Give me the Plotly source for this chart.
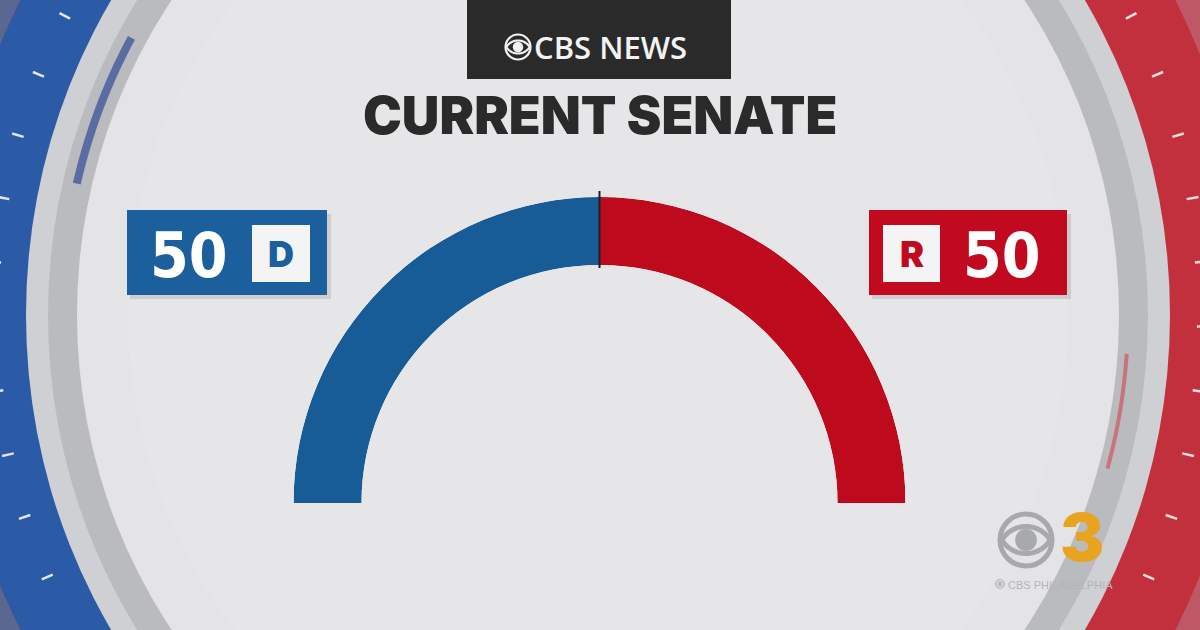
import numpy as np
import plotly.graph_objects as go

W, H = 1200, 630

# ---------------- data ----------------
parties = ["Democrats", "Republicans"]
party_letters = ["D", "R"]
seats = [50, 50]
party_colors = ["#175c96", "#bd0a1c"]
box_colors = ["#1c5f9d", "#c10a1f"]

title_text = "CURRENT SENATE"
network_text = "CBS NEWS"
station_text = "CBS PHILADELPHIA"
channel_text = "3"


def px(x):
    return x / W


def py(y):
    return 1 - y / H


shapes = []
annotations = []


def rect(x0, y0, x1, y1, color, layer="below"):
    shapes.append(dict(type="rect", xref="paper", yref="paper",
                       x0=px(x0), x1=px(x1), y0=py(y1), y1=py(y0),
                       fillcolor=color, line=dict(width=0), layer=layer))


def ellipse(cx, cy, a, b, fill=None, line_color=None, line_width=0, layer="below"):
    shapes.append(dict(type="circle", xref="paper", yref="paper",
                       x0=px(cx - a), x1=px(cx + a), y0=py(cy + b), y1=py(cy - b),
                       fillcolor=fill if fill else "rgba(0,0,0,0)",
                       line=dict(width=line_width, color=line_color or "rgba(0,0,0,0)"),
                       layer=layer))


def poly_path(xs, ys, close=True):
    pts = [f"{px(x):.5f},{py(y):.5f}" for x, y in zip(xs, ys)]
    return "M " + " L ".join(pts) + (" Z" if close else "")


def ell_pts(cx, cy, a, b, t0, t1, n=160):
    t = np.radians(np.linspace(t0, t1, n))
    return cx + a * np.cos(t), cy - b * np.sin(t)


# ---------------- background frame (perspective ring) ----------------
FCX, FCY = 598, 315
rect(0, 0, 600, 630, "#5a6791")
rect(600, 0, 1200, 630, "#bf5866")
# outer coloured band: right red, left blue
ellipse(FCX, FCY, 652, 678, fill="#c3303d")
xs, ys = ell_pts(FCX, FCY, 652, 678, 90, 270)
shapes.append(dict(type="path", xref="paper", yref="paper", path=poly_path(xs, ys),
                   fillcolor="#2b5ba6", line=dict(width=0), layer="below"))
# gray rings + interior
ellipse(FCX, FCY, 572, 600, fill="#cfd0d3")
ellipse(FCX, FCY, 550, 577, fill="#babbbf")
ellipse(FCX, FCY, 521, 548, fill="#e4e4e6")
ellipse(FCX, FCY, 470, 495, fill="#e6e6e8")

# accent arcs inside gray band
xs, ys = ell_pts(FCX, FCY, 536, 563, 150.5, 166.5, 60)
shapes.append(dict(type="path", xref="paper", yref="paper", path=poly_path(xs, ys, False),
                   line=dict(width=8, color="#5b6ca3"), layer="below"))
xs, ys = ell_pts(FCX, FCY, 530, 557, -16, -4, 60)
shapes.append(dict(type="path", xref="paper", yref="paper", path=poly_path(xs, ys, False),
                   line=dict(width=4, color="#c8747e"), layer="below"))

# tick dashes on outer band
tick_angles = [151.8 + 5.85 * k for k in range(11)]
for a in tick_angles + [180 - t for t in tick_angles]:
    ar = np.radians(a)
    x0, y0 = FCX + 599 * np.cos(ar), FCY - 627 * np.sin(ar)
    x1, y1 = FCX + 611 * np.cos(ar), FCY - 639 * np.sin(ar)
    shapes.append(dict(type="line", xref="paper", yref="paper",
                       x0=px(x0), y0=py(y0), x1=px(x1), y1=py(y1),
                       line=dict(width=2.5, color="rgba(255,255,255,0.85)"), layer="below"))


# ---------------- CBS eye helper ----------------
def cbs_eye(cx, cy, r, color, lw):
    ellipse(cx, cy, r, r, line_color=color, line_width=lw, layer="above")
    a, b = 0.93 * r, 0.52 * r
    rho = (a * a + b * b) / (2 * b)
    half = np.degrees(np.arcsin(a / rho))
    t = np.radians(np.linspace(90 - half, 90 + half, 40))
    ux = rho * np.cos(t)
    uy = (b - rho) + rho * np.sin(t)
    xs = np.concatenate([cx + ux, cx - ux])
    ys = np.concatenate([cy - uy, cy + uy])
    shapes.append(dict(type="path", xref="paper", yref="paper", path=poly_path(xs, ys),
                       line=dict(width=lw, color=color), fillcolor="rgba(0,0,0,0)", layer="above"))
    ellipse(cx, cy, 0.42 * r, 0.42 * r, fill=color, layer="above")


# ---------------- header ----------------
rect(467, -5, 731, 79, "#2a2a2b", layer="above")
cbs_eye(518, 47, 12.5, "#f2f2f2", 2.2)
annotations.append(dict(text=network_text, x=px(532), y=py(47), xref="paper", yref="paper",
                        xanchor="left", yanchor="middle", showarrow=False,
                        font=dict(family="Open Sans", size=31, color="#f2f2f2", weight=600)))
annotations.append(dict(text=title_text, x=px(600), y=py(115), xref="paper", yref="paper",
                        xanchor="center", yanchor="middle", showarrow=False,
                        font=dict(family="Inter", size=52, color="#2a2a2a", weight=900)))

# ---------------- seat boxes ----------------
box_specs = [
    dict(x0=127, x1=327, sq=(252, 310), num_x=189),
    dict(x0=869, x1=1067, sq=(883, 940), num_x=1002),
]
for i, spec in enumerate(box_specs):
    rect(spec["x0"] + 3, 214, spec["x1"] + 4, 299, "rgba(0,0,0,0.10)", layer="above")
    rect(spec["x0"], 210, spec["x1"], 295, box_colors[i], layer="above")
    rect(spec["sq"][0], 225, spec["sq"][1], 282, "#f4f4f4", layer="above")
    annotations.append(dict(text=str(seats[i]), x=px(spec["num_x"]), y=py(255),
                            xref="paper", yref="paper", xanchor="center", yanchor="middle",
                            showarrow=False,
                            font=dict(family="DejaVu Sans Condensed, Roboto, sans-serif",
                                      size=62, color="#ffffff", weight=700)))
    annotations.append(dict(text=party_letters[i], x=px(sum(spec["sq"]) / 2), y=py(254),
                            xref="paper", yref="paper", xanchor="center", yanchor="middle",
                            showarrow=False,
                            font=dict(family="Inter", size=36, color=box_colors[i], weight=900)))

# ---------------- gauge (data) ----------------
gcx, gcy = 599.5, 503
R_out, R_in = 306, 238
total = sum(seats)
widths = [180 * s / total for s in seats]
centers = []
start = 180.0
for w in widths:
    centers.append(start - w / 2)
    start -= w

fig = go.Figure()
fig.add_trace(go.Barpolar(
    r=[1] * len(seats), theta=centers, width=widths,
    marker=dict(color=party_colors, line=dict(width=0)),
    customdata=seats, text=parties,
    hovertemplate="%{text}: %{customdata}<extra></extra>",
    showlegend=False,
))

# majority divider
shapes.append(dict(type="line", xref="paper", yref="paper",
                   x0=px(gcx), x1=px(gcx), y0=py(gcy - R_in + 3), y1=py(gcy - R_out - 6),
                   line=dict(width=2, color="#1f1f1f"), layer="above"))

# ---------------- station bug ----------------
cbs_eye(1026, 540, 26, "#a8a9ad", 5)
annotations.append(dict(text=channel_text, x=px(1082), y=py(537), xref="paper", yref="paper",
                        xanchor="center", yanchor="middle", showarrow=False, height=60,
                        valign="middle",
                        font=dict(family="Inter", size=66, color="#e8a321", weight=900)))
cbs_eye(1000, 584, 4.5, "#b4b4b8", 1)
annotations.append(dict(text=station_text, x=px(1006), y=py(584.5), xref="paper", yref="paper",
                        xanchor="left", yanchor="middle", showarrow=False,
                        font=dict(family="Liberation Sans", size=11, color="#b4b4b8")))

fig.update_layout(
    width=W, height=H,
    margin=dict(l=0, r=0, t=0, b=0),
    paper_bgcolor="#e4e4e6",
    plot_bgcolor="rgba(0,0,0,0)",
    showlegend=False,
    polar=dict(
        domain=dict(x=[px(gcx - R_out), px(gcx + R_out)], y=[py(gcy), py(gcy - R_out)]),
        sector=[0, 180],
        hole=R_in / R_out,
        bgcolor="rgba(0,0,0,0)",
        radialaxis=dict(visible=False, range=[0, 1]),
        angularaxis=dict(visible=False, rotation=0, direction="counterclockwise"),
    ),
    shapes=shapes,
    annotations=annotations,
)

fig.write_html("out.html", config={"displayModeBar": False},
               post_script="document.body.style.margin='0';document.body.style.overflow='hidden';")
